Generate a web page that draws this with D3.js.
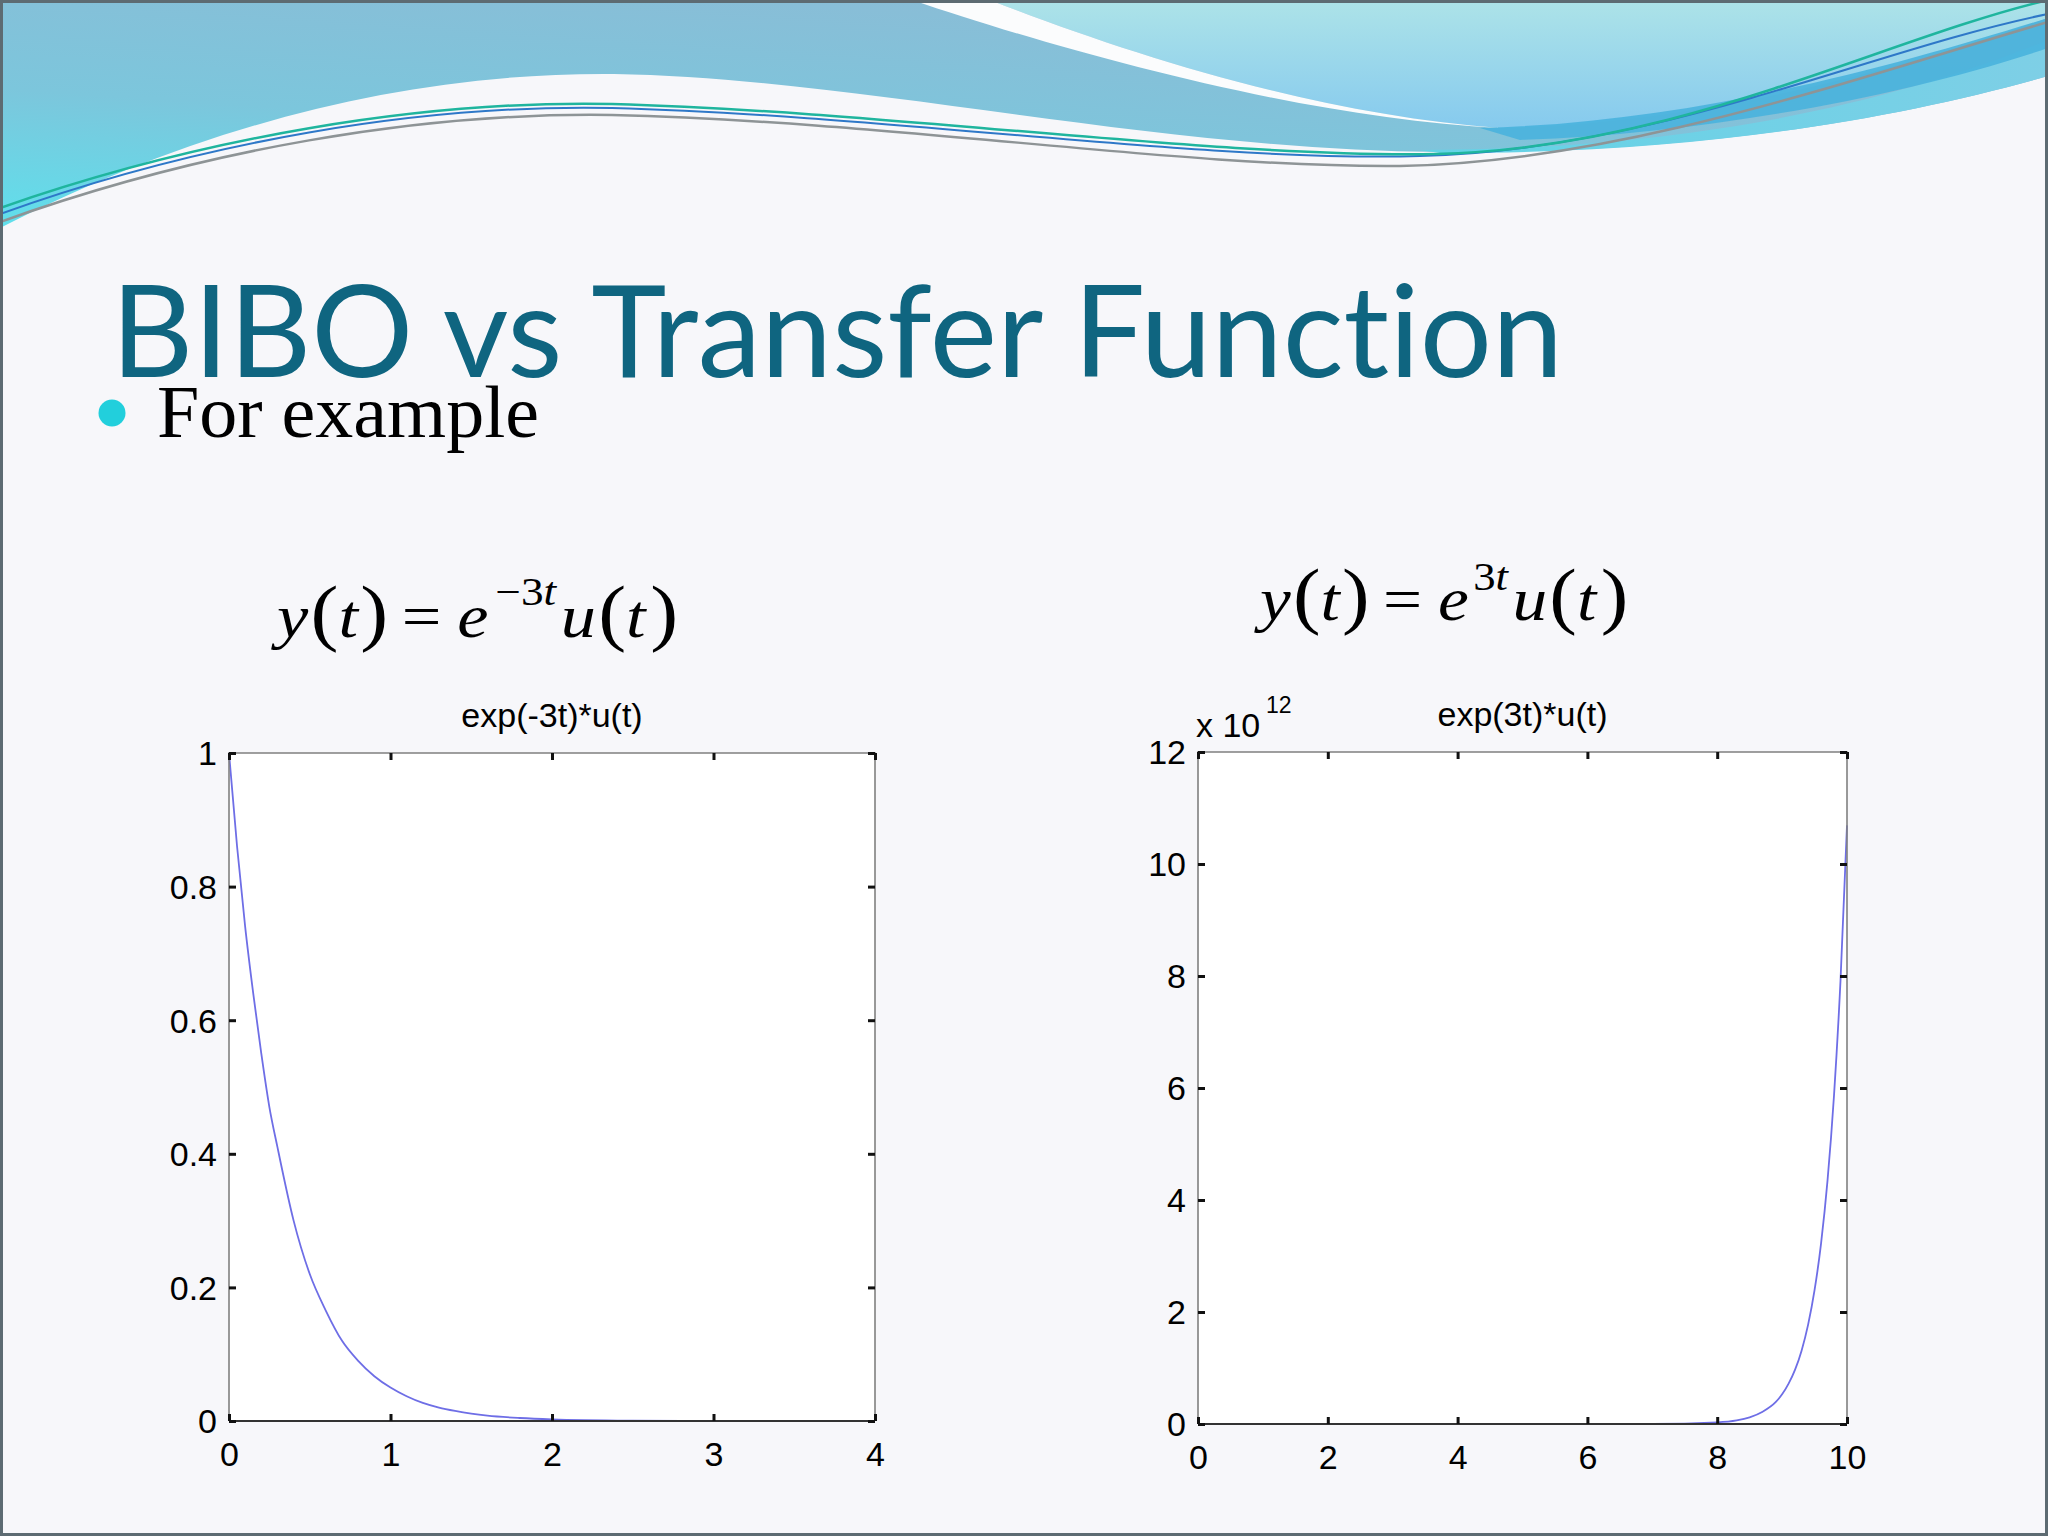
<!DOCTYPE html>
<html lang="en">
<head>
    <meta charset="UTF-8">
    <title>BIBO vs Transfer Function</title>
    <script src="https://d3js.org/d3.v7.min.js"></script>
    <style>
        body {
            margin: 0;
            padding: 0;
            background: #f7f7fa;
        }
        svg { display: block; }
        .tick-label {
            font-family: "Liberation Sans", Arial, sans-serif;
            font-size: 34px;
            fill: #000;
        }
        .eq {
            font-family: "Liberation Serif", "Times New Roman", serif;
            fill: #000;
        }
    </style>
</head>
<body>
    <div id="slide"></div>
    <script>
        // data
        const decayTicksX = [0, 1, 2, 3, 4];
        const decayTicksY = [0, 0.2, 0.4, 0.6, 0.8, 1];
        const decayT = [0, 0.05, 0.1, 0.15, 0.2, 0.25, 0.3, 0.4, 0.5, 0.6, 0.7, 0.8, 0.9, 1.0,
                        1.1, 1.2, 1.3, 1.4, 1.5, 1.6, 1.8, 2.0, 2.5, 3.0, 3.5, 4.0];
        const decayY = [1.00, 0.86, 0.74, 0.64, 0.55, 0.47, 0.41, 0.30, 0.22, 0.165, 0.12, 0.09, 0.067, 0.05,
                        0.037, 0.027, 0.02, 0.015, 0.011, 0.008, 0.0045, 0.0025, 0.0006, 0.0001, 0, 0];

        const growTicksX = [0, 2, 4, 6, 8, 10];
        const growTicksY = [0, 2, 4, 6, 8, 10, 12];
        const growT = [0, 1, 2, 3, 4, 5, 6, 7, 8, 8.3, 8.5, 8.7, 8.9, 9.0, 9.1, 9.2, 9.3, 9.4,
                       9.5, 9.6, 9.7, 9.8, 9.9, 10];
        // values in units of 1e12
        const growY = [0, 0, 0, 0, 0, 0, 0, 0, 0.03, 0.065, 0.12, 0.22, 0.39, 0.53, 0.72, 0.97, 1.31, 1.77,
                       2.39, 3.22, 4.35, 5.87, 7.92, 10.69];

        const W = 2048, H = 1536;

        const svg = d3.select("#slide")
            .append("svg")
            .attr("width", W)
            .attr("height", H);

        const defs = svg.append("defs");

        // Gradients for the header waves
        const g1 = defs.append("linearGradient").attr("id", "waveBlue")
            .attr("x1", 0).attr("y1", 1).attr("x2", 0.6).attr("y2", 0);
        g1.append("stop").attr("offset", "0%").attr("stop-color", "#5fe0ec");
        g1.append("stop").attr("offset", "45%").attr("stop-color", "#7cc6dc");
        g1.append("stop").attr("offset", "100%").attr("stop-color", "#8bbcd6");

        const g2 = defs.append("linearGradient").attr("id", "waveLight")
            .attr("x1", 0).attr("y1", 0).attr("x2", 0).attr("y2", 1);
        g2.append("stop").attr("offset", "0%").attr("stop-color", "#ade3e8");
        g2.append("stop").attr("offset", "100%").attr("stop-color", "#86caee");

        const g3 = defs.append("linearGradient").attr("id", "waveLower")
            .attr("x1", 0).attr("y1", 0).attr("x2", 1).attr("y2", 0);
        g3.append("stop").attr("offset", "0%").attr("stop-color", "#62d3e6");
        g3.append("stop").attr("offset", "100%").attr("stop-color", "#7ecfe6");

        // Slide background
        svg.append("rect")
            .attr("x", 0).attr("y", 0)
            .attr("width", W).attr("height", H)
            .attr("fill", "#f7f7fa");

        // Header decoration
        const head = svg.append("g");
        head.append("path")
            .attr("d", "M0,0 L0,228 C190,130 400,72 614,74 C860,78 1150,150 1440,152 C1700,154 1900,118 2048,76 L2048,0 Z")
            .attr("fill", "url(#waveBlue)");
        head.append("path")
            .attr("d", "M1420,150 C1700,150 1900,100 2048,40 L2048,76 C1900,118 1700,154 1440,153 Z")
            .attr("fill", "url(#waveLower)");
        head.append("path")
            .attr("d", "M990,0 C1130,55 1320,115 1500,128 C1700,124 1900,70 2048,18 L2048,0 Z")
            .attr("fill", "url(#waveLight)");
        head.append("path")
            .attr("d", "M1480,128 C1700,122 1900,64 2048,18 L2048,48 C1900,98 1700,134 1520,140 Z")
            .attr("fill", "#49b3dd")
            .attr("opacity", 0.9);
        head.append("path")
            .attr("d", "M912,0 C1060,50 1300,118 1500,128 C1320,115 1130,55 990,0 Z")
            .attr("fill", "#fbfcfd");

        // thin swoosh lines
        head.append("path")
            .attr("d", "M0,222 C200,150 420,112 612,115 C900,122 1180,168 1400,166 C1620,162 1850,80 2048,22")
            .attr("fill", "none").attr("stroke", "#8e9496").attr("stroke-width", 2.5);
        head.append("path")
            .attr("d", "M0,214 C200,142 420,104 612,108 C900,116 1200,162 1420,156 C1660,150 1870,50 2048,14")
            .attr("fill", "none").attr("stroke", "#2e78c8").attr("stroke-width", 2);
        head.append("path")
            .attr("d", "M0,208 C200,138 420,100 612,104 C900,112 1210,158 1436,154 C1680,148 1880,40 2048,0")
            .attr("fill", "none").attr("stroke", "#1fb59e").attr("stroke-width", 2.5);

        // Slide frame
        svg.append("rect")
            .attr("x", 1.5).attr("y", 1.5)
            .attr("width", W - 3).attr("height", H - 3)
            .attr("fill", "none")
            .attr("stroke", "#5d6b72")
            .attr("stroke-width", 3);

        // Title
        svg.append("text")
            .attr("x", 111).attr("y", 377)
            .attr("textLength", 1452)
            .attr("lengthAdjust", "spacingAndGlyphs")
            .style("font-family", "Lato, 'Open Sans', sans-serif")
            .style("font-size", "128px")
            .style("font-variant-ligatures", "none")
            .style("fill", "#0f6580")
            .text("BIBO vs Transfer Function");

        // Bullet
        svg.append("circle")
            .attr("cx", 112).attr("cy", 413).attr("r", 13.5)
            .attr("fill", "#22cfdc");
        svg.append("text")
            .attr("x", 157).attr("y", 437)
            .attr("textLength", 382)
            .attr("lengthAdjust", "spacingAndGlyphs")
            .style("font-family", "'Liberation Serif', 'Times New Roman', serif")
            .style("font-size", "74px")
            .style("fill", "#000")
            .text("For example");

        // Equation helper: pieces are [text, italic, size, dy, dx]
        function equation(x0, baseline, width, pieces) {
            const t = svg.append("text")
                .attr("class", "eq")
                .attr("x", x0)
                .attr("y", baseline);
            pieces.forEach(p => {
                t.append("tspan")
                    .style("font-style", p[1] ? "italic" : "normal")
                    .style("font-size", p[2] + "px")
                    .attr("dy", p[3])
                    .attr("dx", p[4] || 0)
                    .text(p[0]);
            });
            const bw = t.node().getBBox().width;
            const sx = width / bw;
            t.attr("transform", `translate(${x0},0) scale(${sx},1) translate(${-x0},0)`);
        }

        equation(277, 637, 408, [
            ["y", true, 62, 0], ["(", false, 74, 0, 2], ["t", true, 62, 0], [")", false, 74, 0, 2],
            ["=", false, 62, 0, 12], ["e", true, 62, 0, 14],
            ["\u22123", false, 40, -32, 6], ["t", true, 40, 0],
            ["u", true, 62, 32, 4], ["(", false, 74, 0, 2], ["t", true, 62, 0], [")", false, 74, 0, 4]
        ]);

        equation(1260, 620, 375, [
            ["y", true, 62, 0], ["(", false, 74, 0, 2], ["t", true, 62, 0], [")", false, 74, 0, 2],
            ["=", false, 62, 0, 12], ["e", true, 62, 0, 14],
            ["3", false, 40, -30, 4], ["t", true, 40, 0],
            ["u", true, 62, 30, 4], ["(", false, 74, 0, 2], ["t", true, 62, 0], [")", false, 74, 0, 4]
        ]);

        // MATLAB-style plot
        function plot(opts) {
            const x = d3.scaleLinear().domain(opts.xDomain).range([opts.left, opts.right]);
            const y = d3.scaleLinear().domain(opts.yDomain).range([opts.bottom, opts.top]);
            const g = svg.append("g");
            const tickLen = 7;

            g.append("rect")
                .attr("x", opts.left).attr("y", opts.top)
                .attr("width", opts.right - opts.left)
                .attr("height", opts.bottom - opts.top)
                .attr("fill", "#ffffff");

            // curve
            const pts = opts.t.map((d, i) => [d, opts.v[i]]);
            g.append("path")
                .datum(pts)
                .attr("fill", "none")
                .attr("stroke", "#6e6ee6")
                .attr("stroke-width", 1.8)
                .attr("d", d3.line()
                    .x(d => x(d[0]))
                    .y(d => y(d[1]))
                    .curve(d3.curveMonotoneX));

            // box
            g.append("path")
                .attr("d", `M${opts.left},${opts.bottom} L${opts.left},${opts.top} L${opts.right},${opts.top} L${opts.right},${opts.bottom}`)
                .attr("fill", "none").attr("stroke", "#808080").attr("stroke-width", 1.6);
            g.append("line")
                .attr("x1", opts.left).attr("x2", opts.right)
                .attr("y1", opts.bottom).attr("y2", opts.bottom)
                .attr("stroke", "#333").attr("stroke-width", 2);

            // axes with inward ticks
            const xb = g.append("g").attr("transform", `translate(0,${opts.bottom})`)
                .call(d3.axisBottom(x).tickValues(opts.xTicks).tickSize(-tickLen).tickPadding(21).tickFormat(d3.format("")));
            const xt = g.append("g").attr("transform", `translate(0,${opts.top})`)
                .call(d3.axisTop(x).tickValues(opts.xTicks).tickSize(-tickLen).tickFormat(""));
            const yl = g.append("g").attr("transform", `translate(${opts.left},0)`)
                .call(d3.axisLeft(y).tickValues(opts.yTicks).tickSize(-tickLen).tickPadding(12).tickFormat(d3.format("")));
            const yr = g.append("g").attr("transform", `translate(${opts.right},0)`)
                .call(d3.axisRight(y).tickValues(opts.yTicks).tickSize(-tickLen).tickFormat(""));

            [xb, xt, yl, yr].forEach(a => {
                a.select(".domain").remove();
                a.selectAll(".tick line").attr("stroke", "#111").attr("stroke-width", 3);
                a.selectAll(".tick text").attr("class", "tick-label")
                    .attr("font-family", null).attr("font-size", null);
            });
            xb.selectAll(".tick text").attr("dy", "0.71em");
            yl.selectAll(".tick text").attr("dy", "0.35em");

            // title
            g.append("text")
                .attr("class", "tick-label")
                .attr("x", (opts.left + opts.right) / 2)
                .attr("y", opts.top - 26)
                .attr("text-anchor", "middle")
                .text(opts.title);
            return g;
        }

        plot({
            left: 229, right: 875, top: 753, bottom: 1421,
            xDomain: [0, 4], yDomain: [0, 1],
            xTicks: decayTicksX, yTicks: decayTicksY,
            t: decayT, v: decayY,
            title: "exp(-3t)*u(t)"
        });

        const gr = plot({
            left: 1198, right: 1847, top: 752, bottom: 1424,
            xDomain: [0, 10], yDomain: [0, 12],
            xTicks: growTicksX, yTicks: growTicksY,
            t: growT, v: growY,
            title: "exp(3t)*u(t)"
        });

        // exponent label
        gr.append("text")
            .attr("class", "tick-label")
            .attr("x", 1196).attr("y", 737)
            .text("x 10");
        gr.append("text")
            .attr("class", "tick-label")
            .attr("x", 1266).attr("y", 713)
            .style("font-size", "23px")
            .text("12");
    </script>
</body>
</html>
